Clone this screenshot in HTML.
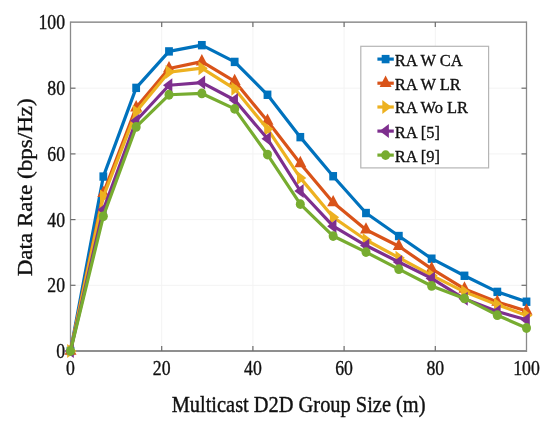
<!DOCTYPE html>
<html><head><meta charset="utf-8"><style>
html,body{margin:0;padding:0;background:#fff;}
body{width:550px;height:427px;overflow:hidden;}
svg{display:block;}
.t{font-family:"Liberation Serif","Times New Roman",serif;fill:#111;stroke:#111;stroke-width:0.35px;}
</style></head><body>
<svg width="550" height="427" viewBox="0 0 550 427">
<rect width="550" height="427" fill="#fff"/>
<line x1="161.70" y1="22.5" x2="161.70" y2="351.0" stroke="#f3f3f3" stroke-width="1"/>
<line x1="70.5" y1="285.30" x2="526.5" y2="285.30" stroke="#f3f3f3" stroke-width="1"/>
<line x1="252.90" y1="22.5" x2="252.90" y2="351.0" stroke="#f3f3f3" stroke-width="1"/>
<line x1="70.5" y1="219.60" x2="526.5" y2="219.60" stroke="#f3f3f3" stroke-width="1"/>
<line x1="344.10" y1="22.5" x2="344.10" y2="351.0" stroke="#f3f3f3" stroke-width="1"/>
<line x1="70.5" y1="153.90" x2="526.5" y2="153.90" stroke="#f3f3f3" stroke-width="1"/>
<line x1="435.30" y1="22.5" x2="435.30" y2="351.0" stroke="#f3f3f3" stroke-width="1"/>
<line x1="70.5" y1="88.20" x2="526.5" y2="88.20" stroke="#f3f3f3" stroke-width="1"/>
<path d="M70.5,351.0H526.5" fill="none" stroke="#6a6a6a" stroke-width="1.7"/>
<path d="M70.5,22.1H526.5" fill="none" stroke="#767676" stroke-width="1.4"/>
<path d="M70.5,21.4V351.9M526.5,21.4V351.9" fill="none" stroke="#8a8a8a" stroke-width="1.3"/>
<line x1="161.70" y1="351.0" x2="161.70" y2="346.0" stroke="#6c6c6c" stroke-width="1.2"/>
<line x1="161.70" y1="22.1" x2="161.70" y2="27.1" stroke="#6c6c6c" stroke-width="1.2"/>
<line x1="70.5" y1="285.30" x2="75.5" y2="285.30" stroke="#6c6c6c" stroke-width="1.2"/>
<line x1="526.5" y1="285.30" x2="521.5" y2="285.30" stroke="#6c6c6c" stroke-width="1.2"/>
<line x1="252.90" y1="351.0" x2="252.90" y2="346.0" stroke="#6c6c6c" stroke-width="1.2"/>
<line x1="252.90" y1="22.1" x2="252.90" y2="27.1" stroke="#6c6c6c" stroke-width="1.2"/>
<line x1="70.5" y1="219.60" x2="75.5" y2="219.60" stroke="#6c6c6c" stroke-width="1.2"/>
<line x1="526.5" y1="219.60" x2="521.5" y2="219.60" stroke="#6c6c6c" stroke-width="1.2"/>
<line x1="344.10" y1="351.0" x2="344.10" y2="346.0" stroke="#6c6c6c" stroke-width="1.2"/>
<line x1="344.10" y1="22.1" x2="344.10" y2="27.1" stroke="#6c6c6c" stroke-width="1.2"/>
<line x1="70.5" y1="153.90" x2="75.5" y2="153.90" stroke="#6c6c6c" stroke-width="1.2"/>
<line x1="526.5" y1="153.90" x2="521.5" y2="153.90" stroke="#6c6c6c" stroke-width="1.2"/>
<line x1="435.30" y1="351.0" x2="435.30" y2="346.0" stroke="#6c6c6c" stroke-width="1.2"/>
<line x1="435.30" y1="22.1" x2="435.30" y2="27.1" stroke="#6c6c6c" stroke-width="1.2"/>
<line x1="70.5" y1="88.20" x2="75.5" y2="88.20" stroke="#6c6c6c" stroke-width="1.2"/>
<line x1="526.5" y1="88.20" x2="521.5" y2="88.20" stroke="#6c6c6c" stroke-width="1.2"/>
<polyline points="70.50,351.00 103.33,176.57 136.16,87.87 169.00,51.41 201.83,45.17 234.66,61.92 267.49,94.77 300.32,137.15 333.16,176.24 365.99,213.03 398.82,236.03 431.65,258.69 464.48,275.77 497.32,291.87 526.50,301.73" fill="none" stroke="#0072BD" stroke-width="3.2" stroke-linejoin="round"/>
<rect x="66.60" y="346.80" width="7.8" height="8.4" fill="#0072BD"/>
<rect x="99.43" y="172.37" width="7.8" height="8.4" fill="#0072BD"/>
<rect x="132.26" y="83.67" width="7.8" height="8.4" fill="#0072BD"/>
<rect x="165.10" y="47.21" width="7.8" height="8.4" fill="#0072BD"/>
<rect x="197.93" y="40.97" width="7.8" height="8.4" fill="#0072BD"/>
<rect x="230.76" y="57.72" width="7.8" height="8.4" fill="#0072BD"/>
<rect x="263.59" y="90.57" width="7.8" height="8.4" fill="#0072BD"/>
<rect x="296.42" y="132.95" width="7.8" height="8.4" fill="#0072BD"/>
<rect x="329.26" y="172.04" width="7.8" height="8.4" fill="#0072BD"/>
<rect x="362.09" y="208.83" width="7.8" height="8.4" fill="#0072BD"/>
<rect x="394.92" y="231.83" width="7.8" height="8.4" fill="#0072BD"/>
<rect x="427.75" y="254.49" width="7.8" height="8.4" fill="#0072BD"/>
<rect x="460.58" y="271.57" width="7.8" height="8.4" fill="#0072BD"/>
<rect x="493.42" y="287.67" width="7.8" height="8.4" fill="#0072BD"/>
<rect x="522.60" y="297.53" width="7.8" height="8.4" fill="#0072BD"/>
<polyline points="70.50,351.00 103.33,193.32 136.16,107.58 169.00,68.49 201.83,61.59 234.66,81.30 267.49,121.05 300.32,163.43 333.16,202.52 365.99,229.78 398.82,246.21 431.65,268.88 464.48,288.91 497.32,302.05 526.50,310.92" fill="none" stroke="#D95319" stroke-width="3.2" stroke-linejoin="round"/>
<polygon points="70.50,343.40 76.50,354.80 64.50,354.80" fill="#D95319"/>
<polygon points="103.33,185.72 109.33,197.12 97.33,197.12" fill="#D95319"/>
<polygon points="136.16,99.98 142.16,111.38 130.16,111.38" fill="#D95319"/>
<polygon points="169.00,60.89 175.00,72.29 163.00,72.29" fill="#D95319"/>
<polygon points="201.83,53.99 207.83,65.39 195.83,65.39" fill="#D95319"/>
<polygon points="234.66,73.70 240.66,85.10 228.66,85.10" fill="#D95319"/>
<polygon points="267.49,113.45 273.49,124.85 261.49,124.85" fill="#D95319"/>
<polygon points="300.32,155.83 306.32,167.23 294.32,167.23" fill="#D95319"/>
<polygon points="333.16,194.92 339.16,206.32 327.16,206.32" fill="#D95319"/>
<polygon points="365.99,222.18 371.99,233.58 359.99,233.58" fill="#D95319"/>
<polygon points="398.82,238.61 404.82,250.01 392.82,250.01" fill="#D95319"/>
<polygon points="431.65,261.27 437.65,272.68 425.65,272.68" fill="#D95319"/>
<polygon points="464.48,281.31 470.48,292.71 458.48,292.71" fill="#D95319"/>
<polygon points="497.32,294.45 503.32,305.85 491.32,305.85" fill="#D95319"/>
<polygon points="526.50,303.32 532.50,314.72 520.50,314.72" fill="#D95319"/>
<polyline points="70.50,351.00 103.33,196.60 136.16,111.85 169.00,72.10 201.83,68.16 234.66,88.86 267.49,128.93 300.32,177.88 333.16,217.30 365.99,239.97 398.82,257.71 431.65,275.44 464.48,291.87 497.32,304.68 526.50,315.52" fill="none" stroke="#EDB120" stroke-width="3.2" stroke-linejoin="round"/>
<polygon points="76.50,351.00 67.20,344.00 67.20,358.00" fill="#EDB120"/>
<polygon points="109.33,196.60 100.03,189.60 100.03,203.60" fill="#EDB120"/>
<polygon points="142.16,111.85 132.86,104.85 132.86,118.85" fill="#EDB120"/>
<polygon points="175.00,72.10 165.70,65.10 165.70,79.10" fill="#EDB120"/>
<polygon points="207.83,68.16 198.53,61.16 198.53,75.16" fill="#EDB120"/>
<polygon points="240.66,88.86 231.36,81.86 231.36,95.86" fill="#EDB120"/>
<polygon points="273.49,128.93 264.19,121.93 264.19,135.93" fill="#EDB120"/>
<polygon points="306.32,177.88 297.02,170.88 297.02,184.88" fill="#EDB120"/>
<polygon points="339.16,217.30 329.86,210.30 329.86,224.30" fill="#EDB120"/>
<polygon points="371.99,239.97 362.69,232.97 362.69,246.97" fill="#EDB120"/>
<polygon points="404.82,257.71 395.52,250.71 395.52,264.71" fill="#EDB120"/>
<polygon points="437.65,275.44 428.35,268.44 428.35,282.44" fill="#EDB120"/>
<polygon points="470.48,291.87 461.18,284.87 461.18,298.87" fill="#EDB120"/>
<polygon points="503.32,304.68 494.02,297.68 494.02,311.68" fill="#EDB120"/>
<polygon points="532.50,315.52 523.20,308.52 523.20,322.52" fill="#EDB120"/>
<polyline points="70.50,351.00 103.33,209.75 136.16,120.72 169.00,85.24 201.83,82.62 234.66,100.03 267.49,138.79 300.32,191.02 333.16,226.17 365.99,245.55 398.82,261.98 431.65,278.40 464.48,298.77 497.32,311.58 526.50,319.79" fill="none" stroke="#7E2F8E" stroke-width="3.2" stroke-linejoin="round"/>
<polygon points="64.50,351.00 73.80,344.00 73.80,358.00" fill="#7E2F8E"/>
<polygon points="97.33,209.75 106.63,202.75 106.63,216.75" fill="#7E2F8E"/>
<polygon points="130.16,120.72 139.46,113.72 139.46,127.72" fill="#7E2F8E"/>
<polygon points="163.00,85.24 172.30,78.24 172.30,92.24" fill="#7E2F8E"/>
<polygon points="195.83,82.62 205.13,75.62 205.13,89.62" fill="#7E2F8E"/>
<polygon points="228.66,100.03 237.96,93.03 237.96,107.03" fill="#7E2F8E"/>
<polygon points="261.49,138.79 270.79,131.79 270.79,145.79" fill="#7E2F8E"/>
<polygon points="294.32,191.02 303.62,184.02 303.62,198.02" fill="#7E2F8E"/>
<polygon points="327.16,226.17 336.46,219.17 336.46,233.17" fill="#7E2F8E"/>
<polygon points="359.99,245.55 369.29,238.55 369.29,252.55" fill="#7E2F8E"/>
<polygon points="392.82,261.98 402.12,254.98 402.12,268.98" fill="#7E2F8E"/>
<polygon points="425.65,278.40 434.95,271.40 434.95,285.40" fill="#7E2F8E"/>
<polygon points="458.48,298.77 467.78,291.77 467.78,305.77" fill="#7E2F8E"/>
<polygon points="491.32,311.58 500.62,304.58 500.62,318.58" fill="#7E2F8E"/>
<polygon points="520.50,319.79 529.80,312.79 529.80,326.79" fill="#7E2F8E"/>
<polyline points="70.50,351.00 103.33,216.31 136.16,126.96 169.00,94.77 201.83,93.46 234.66,108.90 267.49,154.56 300.32,204.16 333.16,236.03 365.99,252.12 398.82,269.20 431.65,285.96 464.48,298.44 497.32,315.19 526.50,328.00" fill="none" stroke="#77AC30" stroke-width="3.2" stroke-linejoin="round"/>
<ellipse cx="70.50" cy="351.00" rx="4.5" ry="4.9" fill="#77AC30"/>
<ellipse cx="103.33" cy="216.31" rx="4.5" ry="4.9" fill="#77AC30"/>
<ellipse cx="136.16" cy="126.96" rx="4.5" ry="4.9" fill="#77AC30"/>
<ellipse cx="169.00" cy="94.77" rx="4.5" ry="4.9" fill="#77AC30"/>
<ellipse cx="201.83" cy="93.46" rx="4.5" ry="4.9" fill="#77AC30"/>
<ellipse cx="234.66" cy="108.90" rx="4.5" ry="4.9" fill="#77AC30"/>
<ellipse cx="267.49" cy="154.56" rx="4.5" ry="4.9" fill="#77AC30"/>
<ellipse cx="300.32" cy="204.16" rx="4.5" ry="4.9" fill="#77AC30"/>
<ellipse cx="333.16" cy="236.03" rx="4.5" ry="4.9" fill="#77AC30"/>
<ellipse cx="365.99" cy="252.12" rx="4.5" ry="4.9" fill="#77AC30"/>
<ellipse cx="398.82" cy="269.20" rx="4.5" ry="4.9" fill="#77AC30"/>
<ellipse cx="431.65" cy="285.96" rx="4.5" ry="4.9" fill="#77AC30"/>
<ellipse cx="464.48" cy="298.44" rx="4.5" ry="4.9" fill="#77AC30"/>
<ellipse cx="497.32" cy="315.19" rx="4.5" ry="4.9" fill="#77AC30"/>
<ellipse cx="526.50" cy="328.00" rx="4.5" ry="4.9" fill="#77AC30"/>
<text transform="translate(70.50,375.20) scale(0.8870,1.0000)" text-anchor="middle" font-size="20.0" class="t">0</text>
<text transform="translate(65.10,357.90) scale(0.8870,1.0000)" text-anchor="end" font-size="20.0" class="t">0</text>
<text transform="translate(161.70,375.20) scale(0.8870,1.0000)" text-anchor="middle" font-size="20.0" class="t">20</text>
<text transform="translate(65.10,292.20) scale(0.8870,1.0000)" text-anchor="end" font-size="20.0" class="t">20</text>
<text transform="translate(252.90,375.20) scale(0.8870,1.0000)" text-anchor="middle" font-size="20.0" class="t">40</text>
<text transform="translate(65.10,226.50) scale(0.8870,1.0000)" text-anchor="end" font-size="20.0" class="t">40</text>
<text transform="translate(344.10,375.20) scale(0.8870,1.0000)" text-anchor="middle" font-size="20.0" class="t">60</text>
<text transform="translate(65.10,160.80) scale(0.8870,1.0000)" text-anchor="end" font-size="20.0" class="t">60</text>
<text transform="translate(435.30,375.20) scale(0.8870,1.0000)" text-anchor="middle" font-size="20.0" class="t">80</text>
<text transform="translate(65.10,95.10) scale(0.8870,1.0000)" text-anchor="end" font-size="20.0" class="t">80</text>
<text transform="translate(526.50,375.20) scale(0.8870,1.0000)" text-anchor="middle" font-size="20.0" class="t">100</text>
<text transform="translate(65.10,29.40) scale(0.8870,1.0000)" text-anchor="end" font-size="20.0" class="t">100</text>
<text transform="translate(298.60,412.00) scale(1.0210,1.1400)" text-anchor="middle" font-size="20" class="t">Multicast D2D Group Size (m)</text>
<text transform="translate(31.90,187.30) rotate(-90) scale(1.1541,1.0300)" text-anchor="middle" font-size="20" class="t">Data Rate (bps/Hz)</text>
<rect x="360.8" y="46.3" width="127.8" height="121.6" fill="#fff" stroke="#b5b5b5" stroke-width="1.2"/>
<line x1="377.4" y1="59.10" x2="393.8" y2="59.10" stroke="#0072BD" stroke-width="3.2"/>
<rect x="381.70" y="54.90" width="7.8" height="8.4" fill="#0072BD"/>
<text transform="translate(394.80,65.50) scale(0.9450,1.0000)" text-anchor="start" font-size="17.4" class="t">RA W CA</text>
<line x1="377.4" y1="83.20" x2="393.8" y2="83.20" stroke="#D95319" stroke-width="3.2"/>
<polygon points="385.60,75.60 391.60,87.00 379.60,87.00" fill="#D95319"/>
<text transform="translate(394.80,89.60) scale(0.9450,1.0000)" text-anchor="start" font-size="17.4" class="t">RA W LR</text>
<line x1="377.4" y1="107.00" x2="393.8" y2="107.00" stroke="#EDB120" stroke-width="3.2"/>
<polygon points="391.60,107.00 382.30,100.00 382.30,114.00" fill="#EDB120"/>
<text transform="translate(394.80,113.40) scale(0.9450,1.0000)" text-anchor="start" font-size="17.4" class="t">RA Wo LR</text>
<line x1="377.4" y1="131.10" x2="393.8" y2="131.10" stroke="#7E2F8E" stroke-width="3.2"/>
<polygon points="379.60,131.10 388.90,124.10 388.90,138.10" fill="#7E2F8E"/>
<text transform="translate(394.80,137.50) scale(0.9450,1.0000)" text-anchor="start" font-size="17.4" class="t">RA [5]</text>
<line x1="377.4" y1="155.10" x2="393.8" y2="155.10" stroke="#77AC30" stroke-width="3.2"/>
<ellipse cx="385.60" cy="155.10" rx="4.5" ry="4.9" fill="#77AC30"/>
<text transform="translate(394.80,161.50) scale(0.9450,1.0000)" text-anchor="start" font-size="17.4" class="t">RA [9]</text>
</svg>
</body></html>
